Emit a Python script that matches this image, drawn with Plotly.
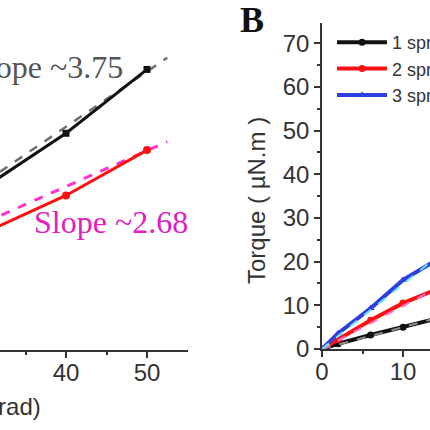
import plotly.graph_objects as go

# ---- Panel A (partially visible) ----
a_x = [30, 40, 50]
a_black = [97, 129, 167]
a_red = [70, 92, 119]
a_fit_x = [30, 52.5]
a_fit_black = [100, 174]
a_fit_red = [76, 124]
a_xticks = [40, 50]
a_xminor = [35, 45]

# ---- Panel B ----
b_x = [0, 2, 6, 10, 14]
b_1 = [0, 1.2, 3.2, 5.0, 6.9]
b_2 = [0, 2.2, 6.6, 10.5, 13.5]
b_3 = [0, 3.6, 9.3, 15.8, 20.2]
b_fit_x = [0, 14]
b_fit_1 = [0, 7.0]
b_fit_2 = [0, 13.8]
b_fit_3 = [0, 20.8]
b_names = ["1 spring", "2 springs", "3 springs"]
b_yticks = [0, 10, 20, 30, 40, 50, 60, 70]
b_xticks = [0, 10]

W = H = 430
def px(v): return v / W
def py(v): return 1 - v / H

fig = go.Figure()

# Panel A
fig.add_trace(go.Scatter(x=a_fit_x, y=a_fit_black, mode="lines", line=dict(color="#707070", width=2.5, dash="dash"),
                         xaxis="x", yaxis="y", showlegend=False))
fig.add_trace(go.Scatter(x=a_fit_x, y=a_fit_red, mode="lines", line=dict(color="#ff33cc", width=3, dash="dash"),
                         xaxis="x", yaxis="y", showlegend=False))
fig.add_trace(go.Scatter(x=a_x, y=a_black, mode="lines+markers", line=dict(color="#111111", width=3),
                         marker=dict(symbol="square", size=7, color="#111111"), xaxis="x", yaxis="y", showlegend=False))
fig.add_trace(go.Scatter(x=a_x, y=a_red, mode="lines+markers", line=dict(color="#ff1010", width=3),
                         marker=dict(symbol="circle", size=8, color="#ff1010"), xaxis="x", yaxis="y", showlegend=False))

# Panel B
cols = ["#111111", "#ff1010", "#2e3fe0"]
fitcols = ["#909090", "#ff70d0", "#70e0ff"]
syms = ["circle", "circle", "triangle-up"]
for ys, name, c, s in zip([b_1, b_2, b_3], b_names, cols, syms):
    fig.add_trace(go.Scatter(x=b_x, y=ys, mode="lines+markers", name=name, line=dict(color=c, width=4),
                             marker=dict(symbol=s, size=7, color=c), xaxis="x2", yaxis="y2"))
for ys, c in zip([b_fit_1, b_fit_2, b_fit_3], fitcols):
    fig.add_trace(go.Scatter(x=b_fit_x, y=ys, mode="lines", line=dict(color=c, width=2, dash="dash"),
                             xaxis="x2", yaxis="y2", showlegend=False))

tickfont = dict(family="Liberation Sans, Arial", size=24, color="#333333")
common = dict(showline=True, linecolor="#333333", linewidth=1.5, ticks="outside", tickcolor="#333333",
              tickwidth=1.5, ticklen=6, showgrid=False, zeroline=False, tickfont=tickfont)

fig.update_layout(
    width=W, height=H,
    margin=dict(l=0, r=0, t=0, b=0, autoexpand=False),
    plot_bgcolor="white", paper_bgcolor="white",
    xaxis=dict(domain=[0, px(188)], range=[31.85, 55.06], anchor="y", tickvals=a_xticks, ticklabelstandoff=-6,
               minor=dict(tickvals=a_xminor, ticklen=3, ticks="outside", tickcolor="#333333", tickwidth=1.5), **common),
    yaxis=dict(domain=[py(350), 1], range=[0, 350 / 1.68], visible=False),
    xaxis2=dict(domain=[px(322), 1], range=[0, 13.33], anchor="y2", tickvals=b_xticks, ticklabelstandoff=-6,
                minor=dict(dtick=5, ticklen=3, ticks="outside", tickcolor="#333333", tickwidth=1.5), **common),
    yaxis2=dict(domain=[py(349), py(23)], range=[0, 74.6], anchor="x2", tickvals=b_yticks,
                minor=dict(dtick=5, ticklen=3, ticks="outside", tickcolor="#333333", tickwidth=1.5), **common),
    showlegend=True,
    legend=dict(x=px(332), y=py(24), xanchor="left", yanchor="top", bgcolor="rgba(0,0,0,0)",
                font=dict(family="Liberation Sans, Arial", size=18, color="#333333"), tracegroupgap=0,
                itemwidth=50),
    annotations=[
        dict(text="Slope ~3.75", x=px(125), y=py(67), xref="paper", yref="paper", xanchor="right", yanchor="middle",
             showarrow=False, font=dict(family="Liberation Serif, Times New Roman", size=32, color="#555555")),
        dict(text="Slope ~2.68", x=px(32), y=py(222), xref="paper", yref="paper", xanchor="left", yanchor="middle",
             showarrow=False, font=dict(family="Liberation Serif, Times New Roman", size=32, color="#e020c0")),
        dict(text="<b>B</b>", x=px(252), y=py(20), xref="paper", yref="paper", xanchor="center", yanchor="middle",
             showarrow=False, font=dict(family="Liberation Serif, Times New Roman", size=36, color="#111111")),
        dict(text="Torque ( µN.m )", x=px(256), y=py(201), xref="paper", yref="paper", xanchor="center",
             yanchor="middle", textangle=-90, showarrow=False, font=tickfont),
        dict(text="Angle (rad)", x=px(43), y=py(406), xref="paper", yref="paper", xanchor="right", yanchor="middle",
             showarrow=False, font=tickfont),
    ],
)

fig.write_html("out.html")
